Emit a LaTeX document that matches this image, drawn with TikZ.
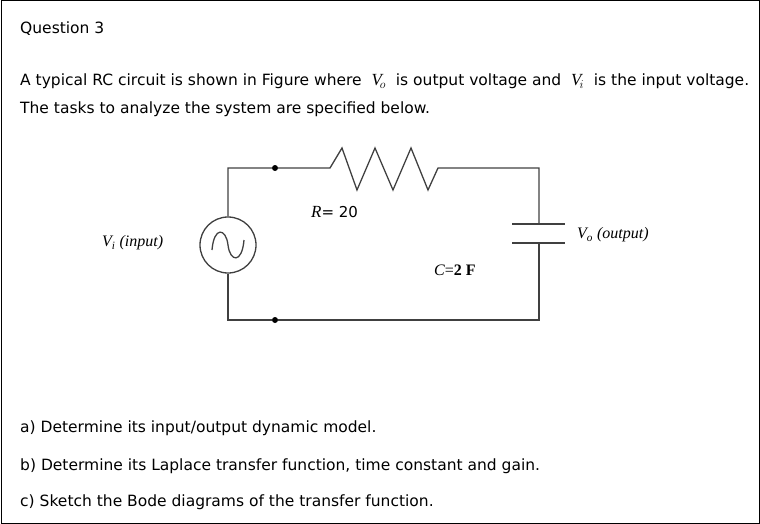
\documentclass[tikz,border=0pt]{standalone}
\usepackage{fontspec}
\setmainfont{DejaVu Sans}
\newfontfamily\tms{Liberation Serif}
\begin{document}
\begin{tikzpicture}[x=1pt,y=-1pt,
  txt/.style={anchor=base west,inner sep=0pt,font=\fontsize{15.5}{18}\selectfont},
  lbl/.style={inner sep=0pt,font=\tms\itshape\fontsize{16}{18}\selectfont},
  wire/.style={line width=1.3pt,draw=black!75},
  dot/.style={circle,fill=black,inner sep=0pt,minimum size=6pt}]
\useasboundingbox (0,0) rectangle (760,524);
\draw[line width=1pt] (1,1) rectangle (759,523);
\node[txt] (q) at (20,34) {Question 3};
\node[txt] (l1) at (20,86) {A typical RC circuit is shown in Figure where \ {\tms\itshape\fontsize{17}{18}\selectfont V$_{\!o}$}\ \ is output voltage and \ {\tms\itshape\fontsize{17}{18}\selectfont V$_{\!i}$}\ \ is the input voltage.};
\node[txt] (l2) at (20,114) {The tasks to analyze the system are specified below.};
\node[txt] (a) at (20,432) {a) Determine its input/output dynamic model.};
\node[txt] (b) at (20,470) {b) Determine its Laplace transfer function, time constant and gain.};
\node[txt] (c) at (20,506) {c) Sketch the Bode diagrams of the transfer function.};
% circuit
\coordinate (tl) at (228,168); \coordinate (bl) at (228,320);
\coordinate (tr) at (539,168); \coordinate (br) at (539,320);
\node[circle,draw=black!75,line width=1.3pt,minimum size=56pt,inner sep=0pt] (src) at (228,245) {};
\draw[line width=1.3pt,draw=black!75] (212,250) .. controls (214,226) and (226,228) .. (228,245) .. controls (230,262) and (242,264) .. (244,240);
\node[dot] (d1) at (275,168) {};
\node[dot] (d2) at (275,320) {};
\coordinate (r1) at (330,168); \coordinate (r2) at (438,168);
\coordinate (c1) at (539,224); \coordinate (c2) at (539,243);
\draw[wire] (src.north) -- (tl) -- (d1) -- (r1) -- ++(12,-20) -- ++(15,42) -- ++(18,-42) -- ++(18,42) -- ++(18,-42) -- ++(17,42) -- (r2) -- (tr) -- (c1);
\draw[wire] (src.south) -- (bl) -- (d2) -- (br) -- (c2);
\draw[wire] (512,224) -- (565,224);
\draw[wire] (512,243) -- (565,243);
\node[lbl,anchor=west] (vi) at (102,243) {V\textsubscript{i} (input)};
\node[lbl,anchor=west] (vo) at (577,235) {V\textsubscript{o} (output)};
\node[inner sep=0pt,anchor=west,font=\fontsize{15}{16}\selectfont] (r) at (311,212) {{\tms\itshape\fontsize{17}{18}\selectfont R}= 20};
\node[inner sep=0pt,anchor=west,font=\tms\fontsize{16}{16}\selectfont] (cl) at (434,270) {\itshape C\upshape =\textbf{2 F}};
\end{tikzpicture}
\end{document}
